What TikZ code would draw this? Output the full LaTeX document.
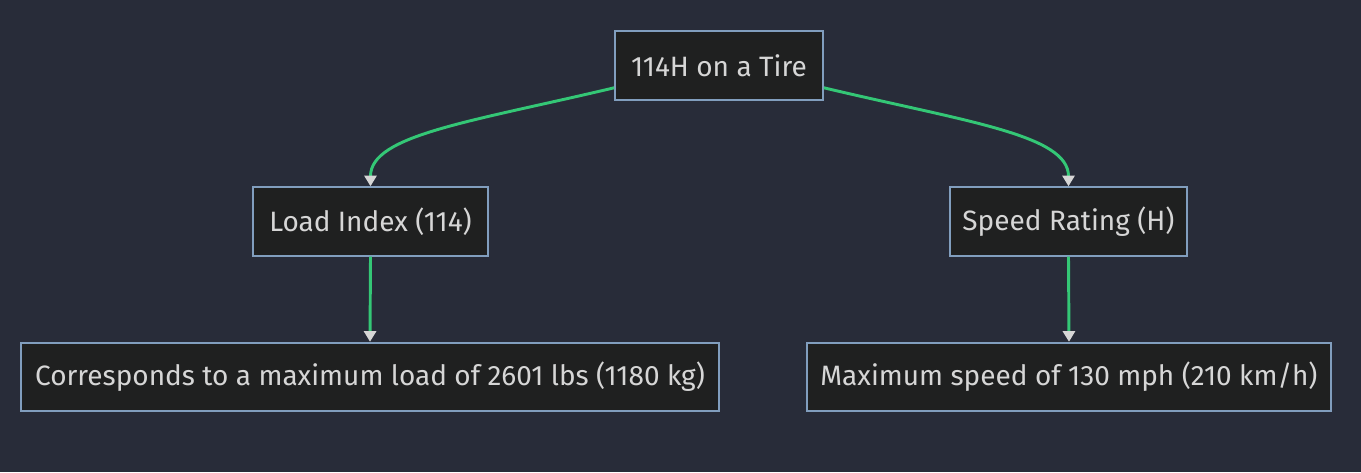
\documentclass[tikz,border=0pt]{standalone}
\usepackage{fontspec}
\setmainfont{Fira Sans}
\usetikzlibrary{arrows.meta}
\definecolor{bgdark}{RGB}{40,44,57}
\definecolor{boxfill}{RGB}{31,32,32}
\definecolor{boxline}{RGB}{129,158,190}
\definecolor{boxtext}{RGB}{214,214,214}
\definecolor{edgegreen}{RGB}{52,199,118}
\definecolor{tipgray}{RGB}{214,214,214}
\begin{document}
\begin{tikzpicture}[x=0.75pt,y=-0.75pt]
		\tikzstyle{infobox}=[draw=boxline,fill=boxfill,text=boxtext,line width=1.3pt,rectangle,text centered,inner sep=0pt,minimum height=51.5pt,font=\fontsize{21}{25}\selectfont]
		\tikzstyle{link}=[draw=edgegreen,line width=2.2pt,-{Triangle[color=tipgray,length=8pt,width=9pt]}]
		
		\fill[bgdark] (0,0) rectangle (1361,472);
		\useasboundingbox (0,0) rectangle (1361,472);
		
		\node[infobox,minimum width=156pt] (tire) at (719,65.5) {114H on a Tire};
		\node[infobox,minimum width=176.25pt] (load) at (370.5,221.5) {Load Index (114)};
		\node[infobox,minimum width=177.75pt] (speed) at (1068.5,221.5) {Speed Rating (H)};
		\node[infobox,minimum width=523.5pt] (loadmax) at (370,377) {Corresponds to a maximum load of 2601 lbs (1180 kg)};
		\node[infobox,minimum width=393pt] (speedmax) at (1069,377) {Maximum speed of 130 mph (210 km/h)};
		
		\draw[link] (tire.192.7) .. controls (470,122) and (370.5,135) .. (load.north);
		\draw[link] (tire.-12.7) .. controls (968,122) and (1068.5,135) .. (speed.north);
		
		\draw[link] (load.south) -- (loadmax.north);
		\draw[link] (speed.south) -- (speedmax.north);
		
		\end{tikzpicture}
\end{document}
